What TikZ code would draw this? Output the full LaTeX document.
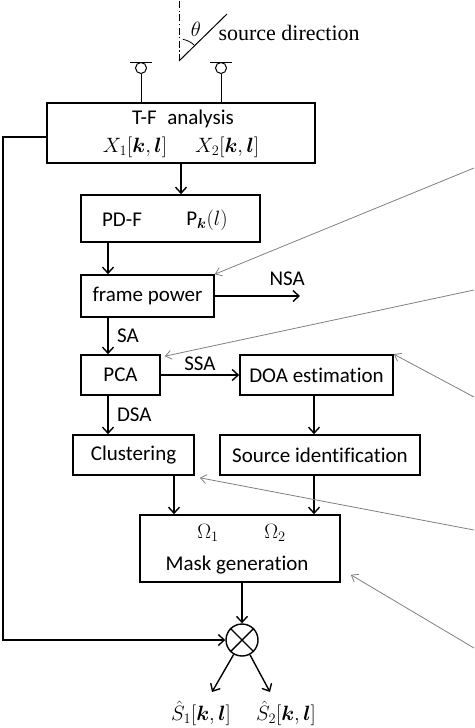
\documentclass[tikz,border=0pt]{standalone}
\usepackage{amsmath}
\usepackage{fontspec}
\setmainfont{Carlito}[Ligatures=NoCommon]
\newfontfamily\timesfont{Liberation Serif}
\usetikzlibrary{arrows.meta}

\begin{document}
\begin{tikzpicture}[x=1pt, y=-1pt, font=\fontsize{21}{25}\selectfont,
  >={Straight Barb[length=6pt,width=11pt]},
  box/.style={draw, line width=1.6pt, inner sep=0pt},
  flow/.style={->, line width=1.4pt},
  hint/.style={-{Straight Barb[length=6pt,width=9pt]}, draw=gray, line width=0.8pt},
  mic/.style={draw, circle, line width=1pt, minimum size=11pt, inner sep=0pt}]

\useasboundingbox (0,0) rectangle (474,728);

% source direction
\coordinate (o) at (179,61);
\draw[dash pattern=on 7pt off 2.5pt on 1.2pt off 2.5pt, line width=0.8pt] (o) -- (179,0);
\draw[line width=1pt] (o) -- ++(48,-47);
\draw[line width=0.8pt] (o) ++(-80:22) arc[start angle=-80, end angle=-47, radius=22];
\node[font=\fontsize{22}{26}\selectfont] (theta) at (196,29) {$\theta$};
\node[anchor=west, font=\fontsize{22}{26}\selectfont\timesfont] (srcdir) at (215,33) {source direction};

% blocks
\node[box, minimum width=268pt, minimum height=60pt] (tf) at (181,133) {};
\node (tftxt) at (183,119) {T-F\enspace analysis};
\node (tfx) at (181,147) {$X_1[\boldsymbol{k},\boldsymbol{l}]\hspace{28pt}X_2[\boldsymbol{k},\boldsymbol{l}]$};

\node[box, minimum width=179pt, minimum height=47pt] (pdf) at (170.5,218.5) {};
\node (pdftxt) at (122,220) {PD-F};
\node (pk) at (207,220) {$\mathrm{P}_{\boldsymbol{k}}(l)$};

\node[box, minimum width=133pt, minimum height=42pt] (fp) at (147.5,296) {frame power};
\node[box, minimum width=79pt, minimum height=40pt] (pca) at (120.5,375) {PCA};
\node[box, minimum width=153pt, minimum height=40pt] (doa) at (316.5,375) {DOA estimation};
\node[box, minimum width=121pt, minimum height=40pt] (clu) at (133.5,455) {Clustering};
\node[box, minimum width=200pt, minimum height=40pt] (src) at (320,455) {Source identification};

\node[box, minimum width=200pt, minimum height=67pt] (mask) at (240,548.5) {};
\node (om1) at (208,533) {$\Omega_1$};
\node (om2) at (275,533) {$\Omega_2$};
\node (masktxt) at (237,565) {Mask generation};

\node[draw, circle, line width=1.4pt, minimum size=32pt, inner sep=0pt] (mul) at (242,640) {};
\draw[line width=1.4pt] (mul.north west) -- (mul.south east);
\draw[line width=1.4pt] (mul.north east) -- (mul.south west);

% microphones
\foreach \mx/\nm in {141/mica, 221/micb} {
  \node[mic] (\nm) at (\mx,68) {};
  \draw[line width=1pt] (\mx-11,62) -- (\mx+11,62);
  \draw[line width=1pt] (\nm) -- (\nm |- tf.north);
}

% signal flow
\coordinate (trunk) at (108,0);
\coordinate (ltap) at (174,0);
\coordinate (rtap) at (314,0);
\coordinate (nsa) at (300,296);
\coordinate (fbtop) at (3,137);
\coordinate (fbbot) at (3,640);
\coordinate (s1) at (212,692);
\coordinate (s2) at (270,692);

\draw[flow] (tf.south) -- (tf.south |- pdf.north);
\draw[flow] (pdf.south -| trunk) -- (fp.north -| trunk);
\draw[flow] (fp) -- (nsa) node[pos=0.85, above=6pt] {NSA};
\draw[flow] (fp.south -| trunk) -- (pca.north -| trunk) node[midway, right=5pt] {SA};
\draw[flow] (pca) -- (doa) node[midway, above] {SSA};
\draw[flow] (pca.south -| trunk) -- (clu.north -| trunk) node[midway, right=5pt] {DSA};
\draw[flow] (doa.south -| rtap) -- (src.north -| rtap);
\draw[flow] (clu.south -| ltap) -- (mask.north -| ltap);
\draw[flow] (src.south -| rtap) -- (mask.north -| rtap);
\draw[flow] (mask.south -| mul) -- (mul);
\draw[flow] (tf.west |- fbtop) -- (fbtop) -- (fbbot) -- (mul);
\draw[flow] (mul) -- (s1);
\draw[flow] (mul) -- (s2);

\node[inner sep=1pt] (shat1) at (201,713) {$\hat{S}_1[\boldsymbol{k},\boldsymbol{l}]$};
\node[inner sep=1pt] (shat2) at (286,713) {$\hat{S}_2[\boldsymbol{k},\boldsymbol{l}]$};

% grey pointers from the margin
\coordinate (g1) at (474,168);
\coordinate (g2) at (474,290);
\coordinate (g3) at (474,397);
\coordinate (g4) at (474,530);
\coordinate (g5) at (474,648);
\draw[hint] (g1) -- (fp.north east);
\draw[hint] (g2) -- ([xshift=4pt,yshift=-2pt]pca.north east);
\draw[hint] (g3) -- (doa.north east);
\draw[hint] (g4) -- ([xshift=5pt,yshift=-2pt]clu.south east);
\draw[hint] (g5) -- ([xshift=10pt,yshift=8pt]mask.south east);

\end{tikzpicture}
\end{document}
